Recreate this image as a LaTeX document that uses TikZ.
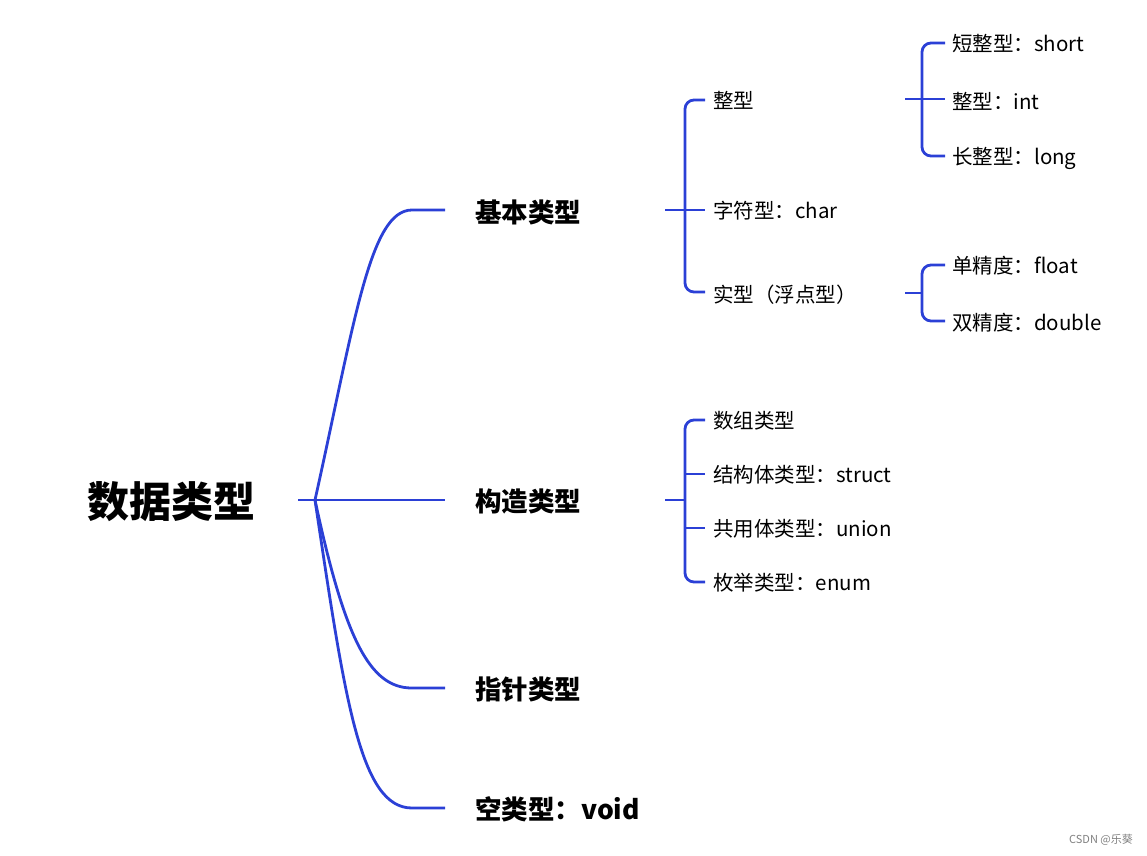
\documentclass[tikz,border=0pt]{standalone}
\usepackage{fontspec}
\setmainfont{Noto Sans CJK SC}
\begin{document}
\begin{tikzpicture}[x=1pt,y=-1pt,
  ln/.style={draw={rgb,255:red,43;green,64;blue,214},line width=2.8pt},
  root/.style={font=\fontsize{42}{46}\selectfont\bfseries,inner sep=0},
  lvl/.style={font=\fontsize{26.5}{30}\selectfont\bfseries,anchor=west,inner sep=0},
  leaf/.style={font=\fontsize{20.5}{24}\selectfont,anchor=west,inner sep=0}]
\useasboundingbox (0,0) rectangle (1147,855);
\node[root] (r) at (171,502) {数据类型};
\coordinate (rs) at (298,500);
\coordinate (rj) at (315,500);
\node[lvl] (a) at (475,212) {基本类型};
\node[lvl] (b) at (475,501) {构造类型};
\node[lvl] (c) at (475,690) {指针类型};
\node[lvl] (d) at (475,809) {空类型：void};
\draw[ln] (rs) -- (rj);
\draw[ln] (rj) .. controls (355,320) and (370,210) .. (412,210) -- (445,210);
\draw[ln] (rj) -- (445,500);
\draw[ln] (rj) .. controls (345,640) and (370,688) .. (412,688) -- (445,688);
\draw[ln] (rj) .. controls (345,700) and (360,808) .. (412,808) -- (445,808);
% basic
\node[leaf] (a1) at (713,100) {整型};
\node[leaf] (a2) at (713,211) {字符型：char};
\node[leaf] (a3) at (713,295) {实型（浮点型）};
\draw[ln] (665,210) -- (685,210);
\draw[ln,rounded corners=9pt] (705,100) -- (685,100) -- (685,292) -- (705,292);
\draw[ln] (685,210) -- (705,210);
% int types
\node[leaf] (i1) at (952,44) {短整型：short};
\node[leaf] (i2) at (952,101) {整型：int};
\node[leaf] (i3) at (952,158) {长整型：long};
\draw[ln] (905,99) -- (945,99);
\draw[ln,rounded corners=9pt] (945,43) -- (922,43) -- (922,156) -- (945,156);
% float
\node[leaf] (f1) at (952,266) {单精度：float};
\node[leaf] (f2) at (952,323) {双精度：double};
\draw[ln] (905,293) -- (922,293);
\draw[ln,rounded corners=9pt] (945,265) -- (922,265) -- (922,321) -- (945,321);
% struct
\node[leaf] (b1) at (713,421) {数组类型};
\node[leaf] (b2) at (713,475) {结构体类型：struct};
\node[leaf] (b3) at (713,529) {共用体类型：union};
\node[leaf] (b4) at (713,583) {枚举类型：enum};
\draw[ln] (665,500) -- (685,500);
\draw[ln,rounded corners=9pt] (705,420) -- (685,420) -- (685,582) -- (705,582);
\draw[ln] (685,474) -- (705,474);
\draw[ln] (685,528) -- (705,528);
\node[font=\fontsize{11}{13}\selectfont,text=gray,anchor=east,inner sep=0] (wm) at (1133,840) {CSDN @乐葵};
\end{tikzpicture}
\end{document}
